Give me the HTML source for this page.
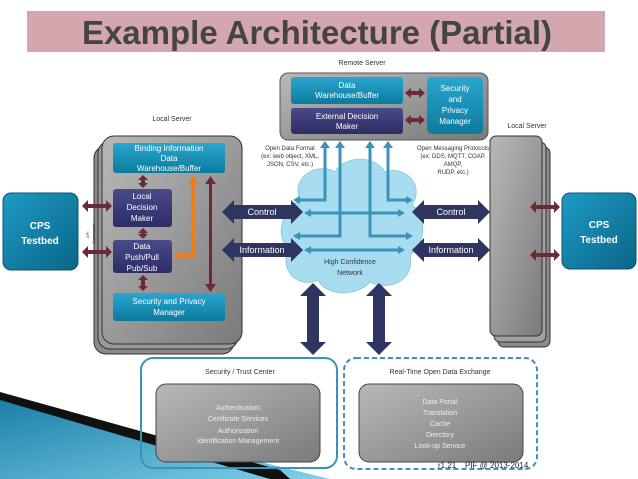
<!DOCTYPE html>
<html><head><style>
html,body{margin:0;padding:0;background:#fff;}
svg{display:block;font-family:"Liberation Sans",sans-serif;}
</style></head><body>
<svg width="638" height="479" viewBox="0 0 638 479" xmlns="http://www.w3.org/2000/svg">
<defs>
<linearGradient id="gray" x1="0" y1="0" x2="1" y2="1"><stop offset="0" stop-color="#b8b8b8"/><stop offset="0.5" stop-color="#9a9a9a"/><stop offset="1" stop-color="#7a7a7a"/></linearGradient>
<linearGradient id="teal" x1="0" y1="0" x2="0" y2="1"><stop offset="0" stop-color="#2aa6cf"/><stop offset="1" stop-color="#0b7a9e"/></linearGradient>
<linearGradient id="navy" x1="0" y1="0" x2="0" y2="1"><stop offset="0" stop-color="#4a4a8a"/><stop offset="1" stop-color="#2c2c66"/></linearGradient>
<linearGradient id="cps" x1="0" y1="0" x2="1" y2="1"><stop offset="0" stop-color="#1d9ac4"/><stop offset="1" stop-color="#0b6688"/></linearGradient>
<linearGradient id="swoosh" x1="0" y1="0" x2="1" y2="1"><stop offset="0" stop-color="#1a7fa6"/><stop offset="1" stop-color="#7fd0ea"/></linearGradient>
</defs>
<polygon points="0,398 0,479 330,479" fill="url(#swoosh)"/>
<polygon points="0,392 280,470 290,479 270,479 0,400" fill="#111"/>
<rect x="27" y="11" width="578" height="41" fill="#d4a6ae"/>
<text x="317" y="44" text-anchor="middle" font-size="33" font-weight="bold" fill="#444">Example Architecture (Partial)</text>
<text x="362" y="65" text-anchor="middle" font-size="7" fill="#333">Remote Server</text>
<rect x="280" y="73" width="208" height="67" rx="8" fill="url(#gray)" stroke="#555"/>
<rect x="291" y="77" width="112" height="27" rx="3" fill="url(#teal)"/>
<text x="347" y="88" text-anchor="middle" font-size="8" fill="#fff">Data</text>
<text x="347" y="98" text-anchor="middle" font-size="8" fill="#fff">Warehouse/Buffer</text>
<rect x="291" y="108" width="112" height="26" rx="3" fill="url(#navy)"/>
<text x="347" y="119" text-anchor="middle" font-size="8" fill="#fff">External Decision</text>
<text x="347" y="129" text-anchor="middle" font-size="8" fill="#fff">Maker</text>
<rect x="427" y="77" width="56" height="57" rx="5" fill="url(#teal)"/>
<text x="455" y="91" text-anchor="middle" font-size="8" fill="#fff">Security</text>
<text x="455" y="102" text-anchor="middle" font-size="8" fill="#fff">and</text>
<text x="455" y="113" text-anchor="middle" font-size="8" fill="#fff">Privacy</text>
<text x="455" y="124" text-anchor="middle" font-size="8" fill="#fff">Manager</text>
<g stroke="#6b2a35" stroke-width="4">
<line x1="409" y1="93" x2="421" y2="93"/><line x1="409" y1="120" x2="421" y2="120"/>
</g>
<g fill="#6b2a35"><polygon points="405,93 411,88 411,98"/><polygon points="425,93 419,88 419,98"/><polygon points="405,120 411,115 411,125"/><polygon points="425,120 419,115 419,125"/></g>
<text x="172" y="121" text-anchor="middle" font-size="7" fill="#333">Local Server</text>
<text x="527" y="128" text-anchor="middle" font-size="7" fill="#333">Local Server</text>
<text x="290" y="150" text-anchor="middle" font-size="6" fill="#333">Open Data Format</text>
<text x="290" y="158" text-anchor="middle" font-size="6" fill="#333">(ex: web object, XML,</text>
<text x="290" y="166" text-anchor="middle" font-size="6" fill="#333">JSON, CSV, etc.)</text>
<text x="453" y="150" text-anchor="middle" font-size="6" fill="#333">Open Messaging Protocols</text>
<text x="453" y="158" text-anchor="middle" font-size="6" fill="#333">(ex: DDS, MQTT, COAP,</text>
<text x="453" y="166" text-anchor="middle" font-size="6" fill="#333">AMQP,</text>
<text x="453" y="174" text-anchor="middle" font-size="6" fill="#333">RUDP, etc.)</text>
<rect x="94" y="146" width="140" height="208" rx="12" fill="#8a8a8a" stroke="#333"/>
<rect x="98" y="141" width="140" height="208" rx="12" fill="#999" stroke="#333"/>
<rect x="102" y="136" width="140" height="208" rx="12" fill="url(#gray)" stroke="#333"/>
<rect x="113" y="143" width="112" height="30" rx="3" fill="url(#teal)"/>
<text x="169" y="151" text-anchor="middle" font-size="8" fill="#fff">Binding Information</text>
<text x="169" y="161" text-anchor="middle" font-size="8" fill="#fff">Data</text>
<text x="169" y="171" text-anchor="middle" font-size="8" fill="#fff">Warehouse/Buffer</text>
<rect x="113" y="189" width="59" height="38" rx="3" fill="url(#navy)"/>
<text x="142" y="199" text-anchor="middle" font-size="8" fill="#fff">Local</text>
<text x="142" y="210" text-anchor="middle" font-size="8" fill="#fff">Decision</text>
<text x="142" y="221" text-anchor="middle" font-size="8" fill="#fff">Maker</text>
<rect x="113" y="240" width="59" height="33" rx="3" fill="url(#navy)"/>
<text x="142" y="249" text-anchor="middle" font-size="8" fill="#fff">Data</text>
<text x="142" y="260" text-anchor="middle" font-size="8" fill="#fff">Push/Pull</text>
<text x="142" y="271" text-anchor="middle" font-size="8" fill="#fff">Pub/Sub</text>
<rect x="113" y="293" width="112" height="28" rx="3" fill="url(#teal)"/>
<text x="169" y="304" text-anchor="middle" font-size="8" fill="#fff">Security and Privacy</text>
<text x="169" y="315" text-anchor="middle" font-size="8" fill="#fff">Manager</text>
<rect x="562" y="193" width="74" height="76" rx="8" fill="url(#cps)" stroke="#0a5570"/>
<text x="599" y="228" text-anchor="middle" font-size="10" font-weight="bold" fill="#fff">CPS</text>
<text x="599" y="243" text-anchor="middle" font-size="10" font-weight="bold" fill="#fff">Testbed</text>
<rect x="498" y="147" width="52" height="200" rx="6" fill="#8a8a8a" stroke="#333"/>
<rect x="494" y="142" width="52" height="200" rx="6" fill="#a0a0a0" stroke="#333"/>
<rect x="490" y="136" width="52" height="200" rx="6" fill="url(#gray)" stroke="#333"/>
<g fill="#6b2a35">
<rect x="141" y="179" width="4" height="6"/><polygon points="143,175 138,180 148,180"/><polygon points="143,188 138,183 148,183"/>
<rect x="141" y="232" width="4" height="4"/><polygon points="143,228 138,233 148,233"/><polygon points="143,239 138,234 148,234"/>
<rect x="141" y="280" width="4" height="6"/><polygon points="143,275 138,280 148,280"/><polygon points="143,291 138,286 148,286"/>
<rect x="209" y="182" width="3" height="104"/><polygon points="210.5,176 205,184 216,184"/><polygon points="210.5,292 205,284 216,284"/>
<rect x="86" y="204" width="20" height="4"/><polygon points="82,206 88,200 88,212"/><polygon points="112,206 106,200 106,212"/>
<rect x="86" y="250" width="20" height="4"/><polygon points="82,252 88,246 88,258"/><polygon points="112,252 106,246 106,258"/>
<rect x="534" y="205" width="20" height="4"/><polygon points="530,207 536,201 536,213"/><polygon points="560,207 554,201 554,213"/>
<rect x="534" y="253" width="20" height="4"/><polygon points="530,255 536,249 536,261"/><polygon points="560,255 554,249 554,261"/>
</g>
<polyline points="178,256 193,256 193,182" fill="none" stroke="#f07d1a" stroke-width="4"/>
<polygon points="193,175 188,184 198,184" fill="#f07d1a"/>
<polygon points="174,256 180,251 180,261" fill="#f07d1a"/>
<text transform="translate(89,238) rotate(-90)" font-size="4" fill="#333">API</text>
<text transform="translate(95,244) rotate(-90)" font-size="4" fill="#333">Commands</text>
<rect x="3" y="193" width="75" height="77" rx="8" fill="url(#cps)" stroke="#0a5570"/>
<text x="40" y="229" text-anchor="middle" font-size="10" font-weight="bold" fill="#fff">CPS</text>
<text x="40" y="244" text-anchor="middle" font-size="10" font-weight="bold" fill="#fff">Testbed</text>
<!-- cloud -->
<path d="M300,200 C290,175 320,162 335,172 C345,155 375,155 385,172 C405,165 425,185 412,205 C428,215 425,245 410,255 C415,280 390,292 370,282 C355,298 325,295 318,280 C295,290 278,265 290,250 C275,240 280,210 300,200 Z" fill="#a8dcef" stroke="#8ccbe3"/>
<g stroke="#3a94b8" stroke-width="3" fill="none">
<polyline points="325,146 325,200 298,200"/>
<polyline points="340,146 340,236 298,236"/>
<polyline points="370,146 370,236 408,236"/>
<polyline points="388,146 388,200 408,200"/>
<line x1="309" y1="213" x2="400" y2="213"/>
<line x1="309" y1="250" x2="400" y2="250"/>
</g>
<g fill="#3a94b8">
<polygon points="325,141 320,148 330,148"/><polygon points="340,141 335,148 345,148"/><polygon points="370,141 365,148 375,148"/><polygon points="388,141 383,148 393,148"/>
<polygon points="293,200 300,196 300,204"/><polygon points="293,236 300,232 300,240"/><polygon points="413,236 406,232 406,240"/><polygon points="413,200 406,196 406,204"/>
<polygon points="304,213 311,209 311,217"/><polygon points="405,213 398,209 398,217"/><polygon points="304,250 311,246 311,254"/><polygon points="405,250 398,246 398,254"/>
</g>
<text x="350" y="264" text-anchor="middle" font-size="7" fill="#333">High Confidence</text>
<text x="350" y="275" text-anchor="middle" font-size="7" fill="#333">Network</text>
<g fill="#2f3560">
<polygon points="222,212 234,200 234,205 291,205 291,200 303,212 291,224 291,219 234,219 234,224"/>
<polygon points="222,250 234,238 234,243 291,243 291,238 303,250 291,262 291,257 234,257 234,262"/>
<polygon points="412,212 424,200 424,205 478,205 478,200 490,212 478,224 478,219 424,219 424,224"/>
<polygon points="412,250 424,238 424,243 478,243 478,238 490,250 478,262 478,257 424,257 424,262"/>
<polygon points="313,283 326,296 319,296 319,342 326,342 313,355 300,342 307,342 307,296 300,296"/>
<polygon points="379,283 392,296 385,296 385,342 392,342 379,355 366,342 373,342 373,296 366,296"/>
</g>
<text x="262" y="215" text-anchor="middle" font-size="9" fill="#fff">Control</text>
<text x="262" y="253" text-anchor="middle" font-size="9" fill="#fff">Information</text>
<text x="451" y="215" text-anchor="middle" font-size="9" fill="#fff">Control</text>
<text x="451" y="253" text-anchor="middle" font-size="9" fill="#fff">Information</text>
<rect x="141" y="358" width="196" height="110" rx="12" fill="none" stroke="#3a94b8" stroke-width="2"/>
<text x="240" y="374" text-anchor="middle" font-size="7" fill="#333">Security / Trust Center</text>
<rect x="156" y="384" width="164" height="78" rx="10" fill="url(#gray)" stroke="#444"/>
<g font-size="7" fill="#eee" text-anchor="middle">
<text x="238" y="410">Authentication</text><text x="238" y="421">Certificate Services</text>
<text x="238" y="433">Authorization</text><text x="238" y="443">Identification Management</text>
</g>
<rect x="344" y="358" width="193" height="111" rx="12" fill="none" stroke="#3a94b8" stroke-width="2" stroke-dasharray="5,3"/>
<text x="440" y="374" text-anchor="middle" font-size="7" fill="#333">Real-Time Open Data Exchange</text>
<rect x="359" y="384" width="164" height="78" rx="10" fill="url(#gray)" stroke="#444"/>
<g font-size="7" fill="#eee" text-anchor="middle">
<text x="440" y="404">Data Portal</text><text x="440" y="415">Translation</text>
<text x="440" y="426">Cache</text><text x="440" y="437">Directory</text><text x="440" y="448">Look-up Service</text>
</g>
<text x="438" y="468" font-size="8" fill="#222">r1.21</text>
<text x="465" y="468" font-size="8" fill="#222">PIF @ 2013-2014</text>
</svg>
</body></html>
